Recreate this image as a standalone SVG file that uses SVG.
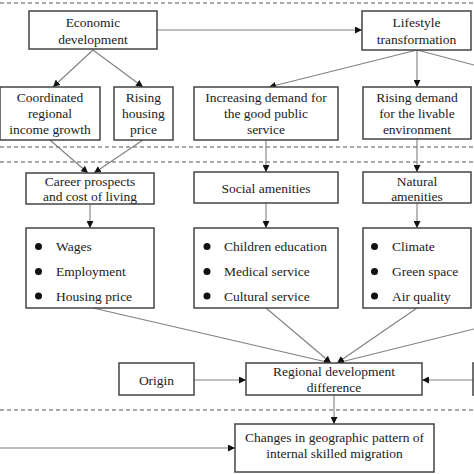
<svg xmlns="http://www.w3.org/2000/svg" width="474" height="474" viewBox="0 0 474 474">
<defs>
<marker id="ah" viewBox="0 0 10 10" refX="10" refY="5" markerWidth="7" markerHeight="7" markerUnits="userSpaceOnUse" orient="auto">
<path d="M0,0 L10,5 L0,10 z" fill="#111"/>
</marker>
<style>
.box{fill:#fff;stroke:#444;stroke-width:1.5}
.t{font-family:"Liberation Serif","Times New Roman",serif;font-size:13.5px;fill:#222;text-anchor:middle}
.tl{font-family:"Liberation Serif","Times New Roman",serif;font-size:13.5px;fill:#222}
.c{fill:none;stroke:#808080;stroke-width:1.1}
.a{fill:none;stroke:#808080;stroke-width:1.1;marker-end:url(#ah)}
.d{fill:none;stroke:#555;stroke-width:1.2;stroke-dasharray:4 3}
.b{fill:#111}
</style>
</defs>
<rect width="474" height="474" fill="#fff"/>
<g id="separators">
<line class="d" x1="0" y1="3" x2="474" y2="3"/>
<line class="d" x1="0" y1="147" x2="474" y2="147"/>
<line class="d" x1="0" y1="162" x2="474" y2="162"/>
<line class="d" x1="0" y1="410" x2="474" y2="410"/>
</g>
<g id="connectors">
<line class="a" x1="157" y1="30" x2="362" y2="30"/>
<line class="a" x1="93" y1="50" x2="53" y2="87"/>
<line class="a" x1="93" y1="50" x2="143" y2="87"/>
<line class="a" x1="417" y1="50" x2="269" y2="87"/>
<line class="a" x1="417" y1="50" x2="417" y2="87"/>
<line class="c" x1="417" y1="50" x2="474" y2="65"/>
<line class="a" x1="50" y1="140" x2="88" y2="173"/>
<line class="a" x1="143" y1="140" x2="94" y2="173"/>
<line class="a" x1="266" y1="140" x2="266" y2="172"/>
<line class="a" x1="417" y1="139" x2="417" y2="172"/>
<line class="a" x1="90" y1="204" x2="90" y2="228"/>
<line class="a" x1="266" y1="203" x2="266" y2="228"/>
<line class="a" x1="417" y1="203" x2="417" y2="228"/>
<line class="a" x1="93" y1="308" x2="331" y2="363"/>
<line class="a" x1="266" y1="308" x2="331" y2="363"/>
<line class="a" x1="417" y1="308" x2="337" y2="363"/>
<line class="a" x1="474" y1="329" x2="337" y2="363"/>
<line class="a" x1="194" y1="380" x2="246" y2="380"/>
<line class="a" x1="473" y1="380" x2="422" y2="380"/>
<line class="a" x1="334" y1="395" x2="334" y2="424"/>
<line class="a" x1="0" y1="448" x2="235" y2="448"/>
</g>
<g id="economic-development">
<rect class="box" x="29" y="11" width="128" height="38"/>
<text class="t" x="93" y="27">Economic</text>
<text class="t" x="93" y="43.5">development</text>
</g>
<g id="lifestyle-transformation">
<rect class="box" x="362" y="11" width="109" height="39"/>
<text class="t" x="416.5" y="27">Lifestyle</text>
<text class="t" x="416.5" y="43.5">transformation</text>
</g>
<g id="coordinated-income">
<rect class="box" x="0" y="87" width="100" height="53"/>
<text class="t" x="50" y="102">Coordinated</text>
<text class="t" x="50" y="118">regional</text>
<text class="t" x="50" y="134">income growth</text>
</g>
<g id="rising-housing-price">
<rect class="box" x="114" y="87" width="59" height="53"/>
<text class="t" x="143.5" y="102">Rising</text>
<text class="t" x="143.5" y="118">housing</text>
<text class="t" x="143.5" y="134">price</text>
</g>
<g id="public-service-demand">
<rect class="box" x="194" y="87" width="144" height="53"/>
<text class="t" x="266" y="102">Increasing demand for</text>
<text class="t" x="266" y="118">the good public</text>
<text class="t" x="266" y="134">service</text>
</g>
<g id="livable-environment-demand">
<rect class="box" x="363" y="87" width="108" height="52"/>
<text class="t" x="417" y="102">Rising demand</text>
<text class="t" x="417" y="118">for the livable</text>
<text class="t" x="417" y="134">environment</text>
</g>
<g id="career-prospects">
<rect class="box" x="26" y="173" width="128" height="31"/>
<text class="t" x="90" y="186">Career prospects</text>
<text class="t" x="90" y="201">and cost of living</text>
</g>
<g id="social-amenities">
<rect class="box" x="194" y="172" width="144" height="31"/>
<text class="t" x="266" y="193">Social amenities</text>
</g>
<g id="natural-amenities">
<rect class="box" x="363" y="172" width="108" height="31"/>
<text class="t" x="417" y="186">Natural</text>
<text class="t" x="417" y="201">amenities</text>
</g>
<g id="career-list">
<rect class="box" x="26" y="228" width="128" height="80"/>
<circle class="b" cx="38.5" cy="246.5" r="3.5"/>
<circle class="b" cx="38.5" cy="271.5" r="3.5"/>
<circle class="b" cx="38.5" cy="296" r="3.5"/>
<text class="tl" x="56" y="251">Wages</text>
<text class="tl" x="56" y="276">Employment</text>
<text class="tl" x="56" y="301">Housing price</text>
</g>
<g id="social-list">
<rect class="box" x="194" y="228" width="144" height="80"/>
<circle class="b" cx="207" cy="246.5" r="3.5"/>
<circle class="b" cx="207" cy="271.5" r="3.5"/>
<circle class="b" cx="207" cy="296" r="3.5"/>
<text class="tl" x="224" y="251">Children education</text>
<text class="tl" x="224" y="276">Medical service</text>
<text class="tl" x="224" y="301">Cultural service</text>
</g>
<g id="natural-list">
<rect class="box" x="363" y="228" width="108" height="80"/>
<circle class="b" cx="374.5" cy="246.5" r="3.5"/>
<circle class="b" cx="374.5" cy="271.5" r="3.5"/>
<circle class="b" cx="374.5" cy="296" r="3.5"/>
<text class="tl" x="392" y="251">Climate</text>
<text class="tl" x="392" y="276">Green space</text>
<text class="tl" x="392" y="301">Air quality</text>
</g>
<g id="origin">
<rect class="box" x="119" y="363" width="75" height="32"/>
<text class="t" x="156.5" y="384.5">Origin</text>
</g>
<g id="regional-difference">
<rect class="box" x="246" y="363" width="176" height="32"/>
<text class="t" x="334" y="376">Regional development</text>
<text class="t" x="334" y="392">difference</text>
</g>
<g id="destination-partial">
<rect class="box" x="473" y="363" width="40" height="32"/>
</g>
<g id="migration-change">
<rect class="box" x="235" y="424" width="199" height="48"/>
<text class="t" x="334.5" y="442">Changes in geographic pattern of</text>
<text class="t" x="334.5" y="458">internal skilled migration</text>
</g>
</svg>
